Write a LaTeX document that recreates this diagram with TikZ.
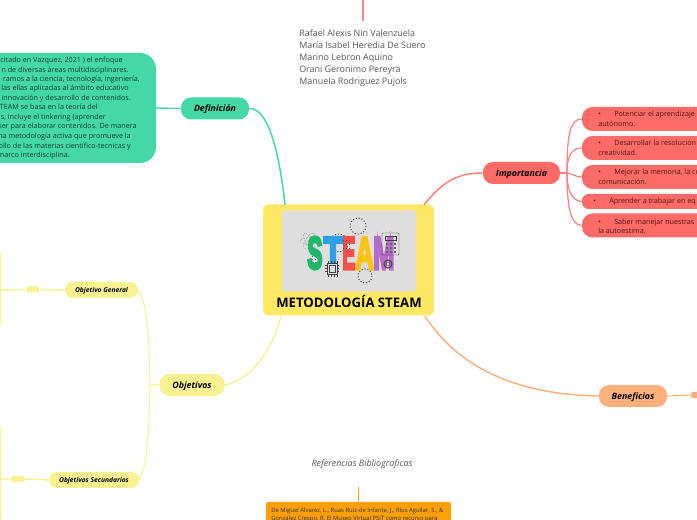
\documentclass[tikz,border=0pt]{standalone}
\usepackage{fontspec}
\setmainfont{Open Sans}
\usepackage{graphicx}
\definecolor{cgreen}{HTML}{43D8A6}
\definecolor{cred}{HTML}{FF6B66}
\definecolor{ccenter}{HTML}{FFE866}
\definecolor{cyel}{HTML}{F8F18F}
\definecolor{cora}{HTML}{FFB07C}
\definecolor{cref}{HTML}{FF9F0A}
\definecolor{cgray}{HTML}{DEDEDE}
\definecolor{ctxt}{HTML}{555555}
\definecolor{dgreen}{HTML}{123F30}
\definecolor{dred}{HTML}{4A1412}
\newfontfamily\logofont[FakeBold=6]{Liberation Sans Bold}
\begin{document}
\begin{tikzpicture}[x=0.75pt,y=-0.75pt,
  sz/.style 2 args={minimum width=#1*0.75pt,minimum height=#2*0.75pt,inner sep=0pt},
  pill/.style={rounded corners=7.5pt},
  mainnode/.style={pill,text height=6pt,text depth=0.8pt,font=\fontsize{6.6pt}{8pt}\selectfont\itshape\bfseries},
  subnode/.style={pill,rounded corners=6pt,fill=cyel,text height=4.3pt,text depth=0.5pt,font=\fontsize{5pt}{6pt}\selectfont\itshape\bfseries},
  kid/.style={fill=cred,rounded corners=8pt},
  lt/.style={anchor=base west,inner sep=0pt,font=\fontsize{5.4pt}{6pt}\selectfont,text=dred},
  dl/.style={anchor=base east,inner sep=0pt,font=\fontsize{5.4pt}{6pt}\selectfont,text=dgreen},
  gl/.style={line width=1.1pt,cgreen},
  rl/.style={line width=0.9pt,cred!85},
  yl/.style={line width=0.75pt,cyel},
  ol/.style={line width=1.1pt,cora},
  doodle/.style={draw=black!70,line width=0.3pt,densely dotted},
  ltr/.style={inner sep=0pt,anchor=south west}]
\useasboundingbox (0,0) rectangle (697,520);
\clip (0,0) rectangle (697,520);
\fill[white] (0,0) rectangle (697,520);

% nodes
\node[sz={206}{110},fill=cgreen,rounded corners=12pt] (defbox) at (53,108) {};
\node[sz={68}{22},fill=cgreen,mainnode] (def) at (215,108.5) {Definición};
\node[sz={171}{111},fill=ccenter,rounded corners=4pt] (center) at (348.5,260) {};
\node[sz={134}{81},fill=cgray,rounded corners=2pt] (photo) at (349,251) {};
\node[inner sep=0pt,font=\fontsize{9.85pt}{12pt}\selectfont\bfseries] (title) at (349,301.5) {METODOLOGÍA STEAM};
\node[sz={77}{22},fill=cred,mainnode] (imp) at (521.5,173) {Importancia};
\node[sz={180}{24},kid] (k1) at (672,119) {};
\node[sz={180}{24},kid] (k2) at (672,148) {};
\node[sz={180}{24},kid] (k3) at (672,177) {};
\node[sz={180}{15},kid,rounded corners=5pt] (k4) at (672,201.5) {};
\node[sz={180}{24},kid] (k5) at (672,225.5) {};
\node[sz={65}{22},fill=cyel,mainnode] (obj) at (192,385) {Objetivos};
\node[sz={73}{16},subnode] (og) at (101.5,290) {Objetivo General};
\node[sz={90}{16},subnode] (os) at (94,480) {Objetivos Secundarios};
\node[sz={12}{6},fill=cyel,rounded corners=1.5pt] (p1) at (33,289.5) {};
\node[sz={13}{6},fill=cyel,rounded corners=1.5pt] (p2) at (17.5,479) {};
\node[sz={68}{22},fill=cora,mainnode] (ben) at (633,396) {Beneficios};
\node[sz={12}{6},fill=cora,rounded corners=1.5pt] (p3) at (697,395) {};
\node[sz={185}{40},fill=cref,rounded corners=1.5pt] (ref) at (358.5,522) {};
\node[inner sep=0pt,font=\itshape\fontsize{6.7pt}{8pt}\selectfont,text=ctxt] (reft) at (362,464.5) {Referencias Bibliograficas};
\node[anchor=north west,inner sep=0pt,align=left,text=ctxt,font=\fontsize{6.7pt}{9pt}\selectfont] (names) at (299,29) {Rafael Alexis Nin Valenzuela\\María Isabel Heredia De Suero\\Marino Lebron Aquino\\Orani Geronimo Pereyra\\Manuela Rodriguez Pujols};
\coordinate (ntop) at (363,0);
\coordinate (nend) at (363,21);
\coordinate (rj) at (567,173);
\coordinate (oj) at (150,384.5);
\coordinate (edgeA) at (0,290);
\coordinate (edgeB) at (0,479);
\coordinate (cDef) at (285,205);
\coordinate (cImp) at (424,205);
\coordinate (cObj) at (281,316);
\coordinate (cBen) at (425,316);

% connectors
\draw[gl] (defbox.east) -- (def.west);
\draw[gl] (def.east) .. controls (268,108) and (279,150) .. (cDef);
\draw[rl,line width=1.1pt] (cImp) .. controls (445,178) and (462,173) .. (imp.west);
\draw[rl] (imp.east) -- (rj);
\draw[rl] (rj) .. controls (567,135) and (570,119) .. (k1.west);
\draw[rl] (rj) .. controls (567,155) and (572,148) .. (k2.west);
\draw[rl] (rj) .. controls (571,173) and (575,177) .. (k3.west);
\draw[rl] (rj) .. controls (567,190) and (572,201) .. (k4.west);
\draw[rl] (rj) .. controls (567,205) and (570,225) .. (k5.west);
\draw[yl,line width=1pt] (obj.east) .. controls (252,380) and (272,350) .. (cObj);
\draw[yl] (obj.west) -- (oj);
\draw[yl] (oj) .. controls (149,340) and (148,305) .. (og.east);
\draw[yl] (oj) .. controls (149,425) and (148,465) .. (os.east);
\draw[yl,line width=1pt] (og.west) -- (p1.east) (p1.west) -- (edgeA);
\draw[yl,line width=1pt] (os.west) -- (p2.east) (p2.west) -- (edgeB);
\draw[yl,line width=1pt] (0.3,252) -- (0.6,325);
\draw[yl,line width=1pt] (0.3,427) -- (0.6,520);
\draw[ol] (cBen) .. controls (465,378) and (535,395) .. (ben.west);
\draw[ol,line width=0.8pt] (ben.east) -- (p3.west);
\draw[rl,line width=1.2pt,cred!80] (ntop) -- (nend);
\draw[cref,line width=1.2pt] (358.5,487) -- (ref.north);

% definition text (cut by the page edge)
\foreach \rx/\by/\tx in {
 123/63/{citado en Vazquez, 2021 ) el enfoque},
 129/73/{n de diversas áreas multidisciplinares.},
 140/82/{ramos a la ciencia, tecnología, ingeniería,},
 129/91/{las ellas aplicadas al ámbito educativo},
 131/101/{innovación y desarrollo de contenidos.},
 98/110/{TEAM se basa en la teoría del},
 106/120/{s, incluye el tinkering (aprender},
 137/129/{ker para elaborar contenidos. De manera},
 131/139/{na metodología activa que promueve la},
 131/149/{ollo de las materias científico-tecnicas y},
 70/158/{marco interdisciplina.}}
 {\node[dl] at (\rx,\by) {\tx};}

% importance text
\foreach \by/\tx in {117/{Potenciar el aprendizaje}, 146/{Desarrollar la resolución}, 175/{Mejorar la memoria, la co}, 224.5/{Saber manejar nuestras}}
 {\node[lt] at (598,\by) {•}; \node[lt] at (614,\by) {\tx};}
\node[lt] at (593,204) {•};
\node[lt] at (609,204) {Aprender a trabajar en eq};
\node[lt] at (598,127) {autónomo.};
\node[lt] at (598,156) {creatividad.};
\node[lt] at (598,185) {comunicación.};
\node[lt] at (598,234) {la autoestima.};

% reference text
\node[anchor=base west,inner sep=0pt,font=\fontsize{4.42pt}{6pt}\selectfont,text=black!80] at (271,512.5) {De Miguel Álvarez, L., Ruas Ruiz-de Infante, J., Ríos Aguilar, S., \&};
\node[anchor=base west,inner sep=0pt,font=\fontsize{4.42pt}{6pt}\selectfont,text=black!80] at (271,521) {González Crespo, R. El Museo Virtual PSIT como recurso para};

% STEAM logo: doodles
\begin{scope}[doodle]
 \foreach \a in {0,60,120} \draw[rotate around={\a:(309,241)}] (309,241) ellipse (9 and 3.5);
 \draw (309,241) circle (1.5);
 \draw[line width=0.8pt,dash pattern=on 0.8pt off 1.4pt] (358,226) circle (8);
 \draw[line width=0.8pt,dash pattern=on 0.8pt off 1.4pt] (339,243) circle (9);
 \draw[line width=0.8pt,dash pattern=on 0.8pt off 1.4pt] (365,276) circle (7);
\end{scope}
\node[ltr] (lS) at (307,269.5) {\resizebox{11.5pt}{24pt}{\logofont\textcolor[HTML]{1FB868}{S}}};
\node[ltr] (lT) at (323.5,269.5) {\resizebox{14pt}{24pt}{\logofont\textcolor[HTML]{2E9FE6}{T}}};
\node[ltr] (lE) at (342,269.5) {\resizebox{10pt}{24pt}{\logofont\textcolor[HTML]{F5504A}{E}}};
\node[ltr] (lA) at (355,269.5) {\resizebox{14pt}{24pt}{\logofont\textcolor[HTML]{FFC413}{A}}};
\node[ltr] (lM) at (373,269.5) {\resizebox{16pt}{24pt}{\logofont\textcolor[HTML]{B56CC8}{M}}};
\begin{scope}[draw=black!75,line width=0.35pt]
 \draw[rounded corners=0.6pt] (382,233) rectangle (399,255);
 \draw (385,236) rectangle (396,240);
 \foreach \yy in {243,247,251} \foreach \xx in {386,390,394} \fill[black!60] (\xx,\yy) rectangle +(2,2);
 \draw[line width=0.7pt,fill=cgray] (327,263) rectangle (337,274);
 \draw (329,265) rectangle (335,272);
 \foreach \xx in {328,331,334,337} {\draw (\xx,274) -- +(0,3); \draw (\xx,263) -- +(0,-2);}
 \foreach \yy in {265,268,271} {\draw (327,\yy) -- +(-2,0); \draw (337,\yy) -- +(2,0);}
 \foreach \yy in {240,244,248} \foreach \xx in {343,346,349} \fill[black!70] (\xx,\yy) rectangle +(1.4,1.4);
 \foreach \yy in {256,259,262} \foreach \xx in {312,315} \fill[black!60] (\xx,\yy) rectangle +(1.4,1.4);
 \draw[line width=0.7pt] (388,264) circle (4);
 \draw (388,264) circle (2);
\end{scope}
\end{tikzpicture}
\end{document}
